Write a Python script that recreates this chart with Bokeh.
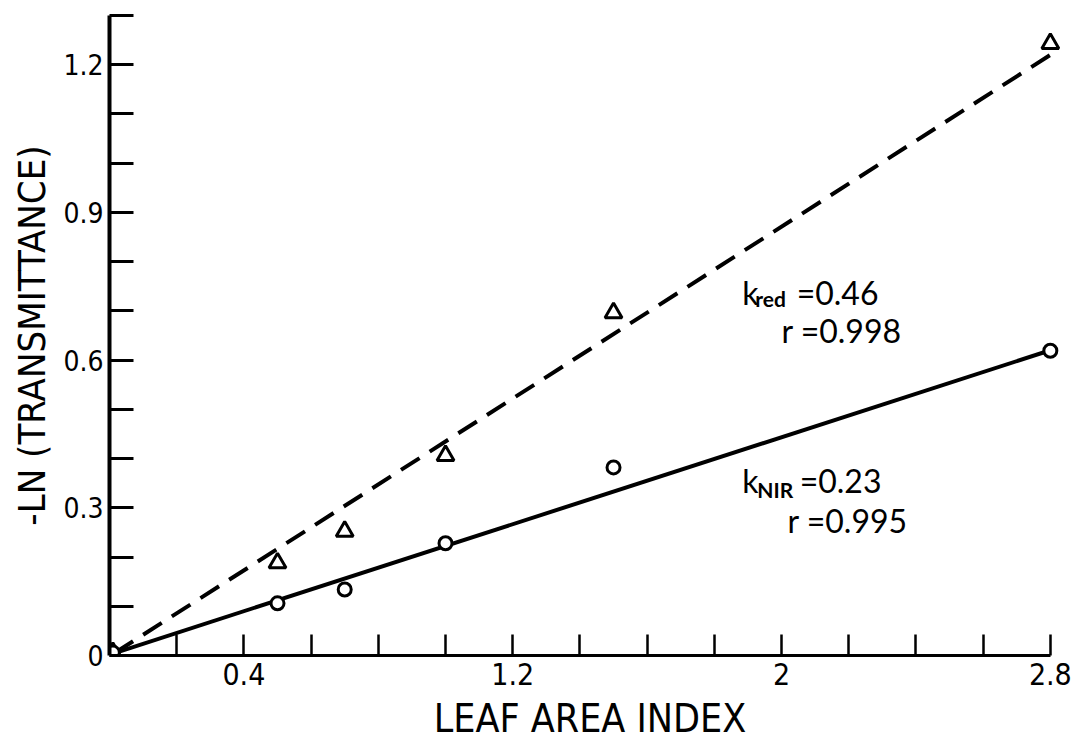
from bokeh.plotting import figure
from bokeh.models import Range1d, FixedTicker, Label
from bokeh.embed import file_html
from bokeh.resources import INLINE

# Data
lai = [0.01, 0.5, 0.7, 1.0, 1.5, 2.8]
red_y = [0.006, 0.188, 0.252, 0.406, 0.696, 1.243]
nir_y = [0.006, 0.106, 0.134, 0.228, 0.382, 0.619]
fit_x = [0.015, 2.8]
red_fit = [0.005, 1.22]
nir_fit = [0.005, 0.62]

x_major = [0.4, 1.2, 2.0, 2.8]
x_minor = [0.2, 0.6, 0.8, 1.0, 1.4, 1.6, 1.8, 2.2, 2.4, 2.6]
y_major = [0, 0.3, 0.6, 0.9, 1.2]
y_minor = [0.1, 0.2, 0.4, 0.5, 0.7, 0.8, 1.0, 1.1, 1.3]

AX_FONT = "DejaVu Sans Condensed"
AN_FONT = "Lato"

p = figure(width=1075, height=746, output_backend="svg", toolbar_location=None,
           x_range=Range1d(0, 2.86), y_range=Range1d(0, 1.3),
           min_border_left=109, min_border_right=5, min_border_top=15, min_border_bottom=91)
p.outline_line_color = None
p.grid.visible = False
p.background_fill_color = "white"
p.border_fill_color = "white"

# x axis
xa = p.xaxis[0]
xa.bounds = (0, 2.8)
xa.ticker = FixedTicker(ticks=x_major, minor_ticks=x_minor)
xa.major_label_overrides = {2: "2"}
xa.axis_line_width = 3
xa.major_tick_in = 21
xa.major_tick_out = 0
xa.minor_tick_in = 21
xa.minor_tick_out = 0
xa.major_tick_line_width = 2.5
xa.minor_tick_line_width = 2.5
xa.major_label_text_font = AX_FONT
xa.major_label_text_font_size = "30px"
xa.major_label_text_color = "black"
xa.major_label_standoff = 7
xa.axis_label = "LEAF AREA INDEX"
xa.axis_label_text_font = AX_FONT
xa.axis_label_text_font_size = "39px"
xa.axis_label_text_font_style = "normal"
xa.axis_label_text_color = "black"
xa.axis_label_standoff = 8

# y axis
ya = p.yaxis[0]
ya.ticker = FixedTicker(ticks=y_major, minor_ticks=y_minor)
ya.major_label_overrides = {0: "0"}
ya.axis_line_width = 4
ya.major_tick_in = 24
ya.major_tick_out = 0
ya.minor_tick_in = 24
ya.minor_tick_out = 0
ya.major_tick_line_width = 3
ya.minor_tick_line_width = 3
ya.major_label_text_font = AX_FONT
ya.major_label_text_font_size = "28px"
ya.major_label_text_color = "black"
ya.major_label_standoff = 6
ya.axis_label = "-LN (TRANSMITTANCE)"
ya.axis_label_text_font = AX_FONT
ya.axis_label_text_font_size = "38px"
ya.axis_label_text_font_style = "normal"
ya.axis_label_text_color = "black"
ya.axis_label_standoff = 6

# fitted lines
p.line(fit_x, red_fit, line_color="black", line_width=4, line_dash="22 12")
p.line(fit_x, nir_fit, line_color="black", line_width=4)

# points
p.scatter(lai, red_y, marker="triangle", size=17, fill_color="white",
          line_color="black", line_width=3)
p.scatter(lai, nir_y, marker="circle", size=13, fill_color="white",
          line_color="black", line_width=3)

def lab(x, y, t, size="32px", weight="normal"):
    p.add_layout(Label(x=x, y=y, text=t, text_align="left", text_baseline="alphabetic",
                       text_font=AN_FONT, text_font_size=size, text_font_style=weight,
                       text_color="black"))

lab(1.883, 0.737, "k")
lab(1.922, 0.725, "red", "21px", "bold")
lab(2.045, 0.737, "=0.46")
lab(2.000, 0.660, "r =0.998")
lab(1.883, 0.355, "k")
lab(1.928, 0.337, "NIR", "21px", "bold")
lab(2.054, 0.355, "=0.23")
lab(2.018, 0.274, "r =0.995")

open("out.html", "w").write(file_html(p, INLINE))
